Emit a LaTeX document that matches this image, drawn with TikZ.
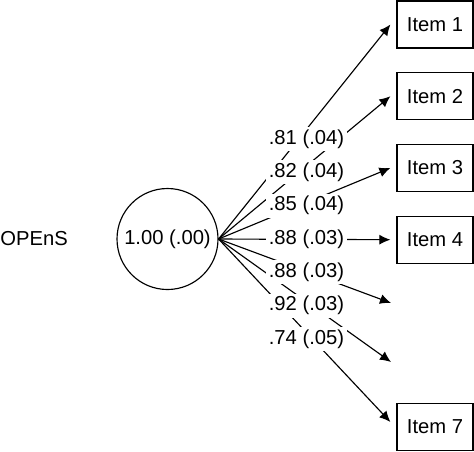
\documentclass[tikz,border=0pt]{standalone}
\usepackage{fontspec}
\setmainfont{Liberation Sans}
\usetikzlibrary{arrows.meta, positioning}
\tikzset{
  latent/.style={circle, draw, minimum size=2.02cm, inner sep=0pt,
                 line width=0.65pt},
  item/.style={rectangle, draw, minimum width=1.52cm, minimum height=0.94cm,
               line width=0.7pt},
  load/.style={fill=white, inner sep=1.5pt},
  arr/.style={-{Latex[length=0.22cm, width=0.2cm]}, line width=0.65pt},
}
\begin{document}
\begin{tikzpicture}[font=\fontsize{11.5}{13.5}\selectfont, node distance=0.47cm]
  \useasboundingbox (0,0) rectangle (9.48,-9.02);
  \clip (0,0) rectangle (9.48,-9.02);
  % factor and indicators
  \node[latent] (lv) at (3.35,-4.78) {1.00 (.00)};
  \node[anchor=west, inner sep=0pt] (name) at (0,-4.78) {OPEnS};
  \node[item] (i1) at (8.70,-0.49) {Item 1};
  \node[item, below=of i1] (i2) {Item 2};
  \node[item, below=of i2] (i3) {Item 3};
  \node[item, below=of i3] (i4) {Item 4};
  \node[item] (i7) at (8.70,-8.54) {Item 7};
  \coordinate (t5) at (7.82,-6.06);
  \coordinate (t6) at (7.82,-7.24);
  % loadings
  \foreach \t in {i1,i2,i3,i4}
    \draw[arr] (lv.east) -- ([xshift=-0.12cm]\t.west);
  \draw[arr] (lv.east) -- ([xshift=-0.12cm, yshift=0.1cm]i7.west);
  \draw[arr] (lv.east) -- (t5);
  \draw[arr] (lv.east) -- (t6);
  \foreach \v [count=\k] in {.81 (.04), .82 (.04), .85 (.04), .88 (.03),
                             .88 (.03), .92 (.03), .74 (.05)}
    \node[load] (l\k) at (6.13,{-2.78-0.667*(\k-1)}) {\v};
\end{tikzpicture}
\end{document}
